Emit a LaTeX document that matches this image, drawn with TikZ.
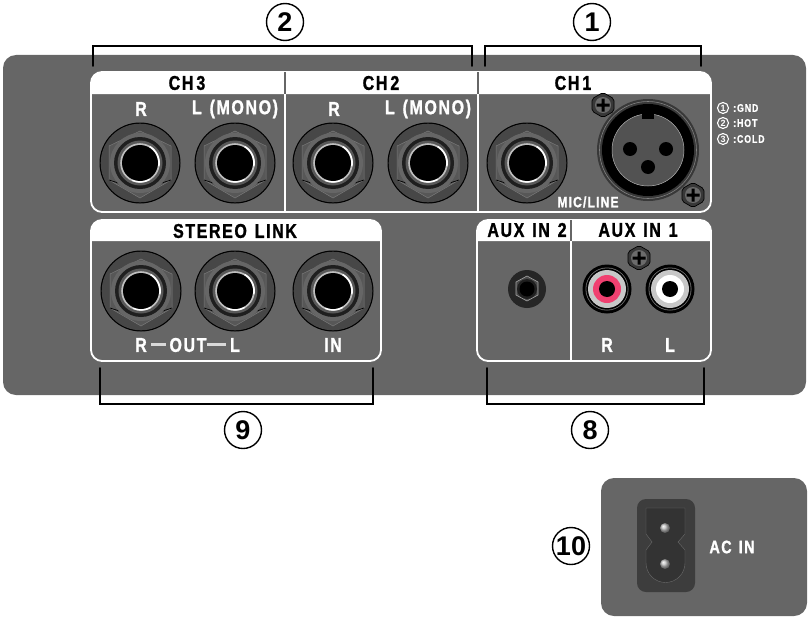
\documentclass[tikz,border=0pt]{standalone}
\usepackage{fontspec}
\setmainfont{Liberation Sans}
\newfontfamily\lblfont[LetterSpace=8,FakeStretch=.8,FakeBold=1.2,WordSpace=1.3]{Liberation Sans Bold}
\definecolor{panel}{HTML}{666666}
\definecolor{rcared}{HTML}{F04070}
\newcommand{\lbl}[1]{\fontsize{#1}{#1}\selectfont\lblfont}
\tikzset{
  x=1pt,y=-1pt,
  panelbox/.style={fill=panel,rounded corners=13pt},
  frame/.style={draw=white,line width=1.8pt,rounded corners=11pt},
  divider/.style={draw=white,line width=2pt},
  bracket/.style={draw=black,line width=1.6pt,line cap=round},
  callout/.style={draw=black,line width=1.4pt,fill=white,circle,minimum size=37pt,inner sep=0pt,font=\fontsize{27}{27}\selectfont\bfseries},
  headtxt/.style={text=black,inner sep=0pt,font=\lbl{20}},
  paneltxt/.style={text=white,inner sep=0pt,font=\lbl{20}},
  legend/.style={text=white,inner sep=0pt,anchor=west,font=\lbl{11}},
  legendnum/.style={draw=white,line width=1.1pt,circle,minimum size=11pt,inner sep=0pt,text=white,font=\fontsize{9}{9}\selectfont\bfseries},
  jack/.pic={
    \fill[black] (0,0) circle[radius=40.5];
    \fill[black!72] (0,0) circle[radius=39.3];
    \draw[fill=black!66,draw=black!52,line width=.5pt] (0,-32)--(31,-17)--(31,17)--(0,35)--(-31,17)--(-31,-17)--cycle;
    \draw[black,line width=.7pt] (-31,17)--(0,27)--(31,17);
    \fill[black!60] (0,0) circle[radius=30];
    \fill[black!88] (0,0) circle[radius=26];
    \fill[black!65] (0,0) circle[radius=22.5];
    \fill[black!25] (0,0) circle[radius=19.8];
    \fill[white] (0,0) -- (10,-17.2) arc[start angle=-60,end angle=10,radius=19.8] -- cycle;
    \fill[white] (0,0) -- (-8,18) arc[start angle=114,end angle=60,radius=19.8] -- cycle;
    \fill[black] (0,0) circle[radius=18];
  },
  screw/.pic={
    \draw[fill=black!78,draw=black,line width=.7pt,rounded corners=2pt] (0,-12.5)--(11,-6.2)--(11,6.2)--(0,12.5)--(-11,6.2)--(-11,-6.2)--cycle;
    \fill[black!58] (0,0) circle[radius=8];
    \fill[black] (-6.5,-1.5) rectangle (6.5,1.5) (-1.5,-6.5) rectangle (1.5,6.5);
  },
  rca/.pic={
    \fill[black] (0,0) circle[radius=24.5];
    \fill[black!55] (0,0) circle[radius=21.5];
    \fill[black] (0,0) circle[radius=20.7];
    \fill[black!22] (0,0) circle[radius=19];
    \fill[rcacol] (0,0) circle[radius=14];
    \fill[black] (0,0) circle[radius=8];
  },
}
\colorlet{rcacol}{white}
\begin{document}
\begin{tikzpicture}
\useasboundingbox (0,0) rectangle (810,618);
% back panel
\fill[panelbox] (3,55) rectangle (806,395);
\fill[panelbox] (601,478) rectangle (807,616);
% title bands
\fill[white] (91,94) [rounded corners=11pt] -- (91,72) -- (711,72) [sharp corners] -- (711,94) -- cycle;
\fill[white] (91,241) [rounded corners=11pt] -- (91,220) -- (381,220) [sharp corners] -- (381,241) -- cycle;
\fill[white] (477,241) [rounded corners=11pt] -- (477,220) -- (711,220) [sharp corners] -- (711,241) -- cycle;
% frames
\draw[frame] (91,212) rectangle (711,72);
\draw[frame] (91,361) rectangle (381,220);
\draw[frame] (477,361) rectangle (711,220);
\draw[panel,line width=1.3pt] (285,72) -- (285,94);
\draw[divider] (285,94) -- (285,212);
\draw[panel,line width=1.3pt] (478,72) -- (478,94);
\draw[divider] (478,94) -- (478,212);
\draw[panel,line width=1.3pt] (571,220) -- (571,241);
\draw[divider] (571,241) -- (571,361);
% jacks
\foreach \x in {140,235,333,428,527} \pic at (\x,163) {jack};
\foreach \x in {141,235,333} \pic at (\x,291) {jack};
% XLR
\fill[black!78] (648,150) circle[radius=51];
\fill[black] (648,150) circle[radius=46];
\draw[black!50,line width=.6pt] (648,150) circle[radius=48.5];
\draw[fill=black!68,draw=black!30,line width=.5pt] (648,150) circle[radius=36];
\fill[black] (642,112) rectangle (654,119);
\fill[black] (630,149) circle[radius=7];
\fill[black] (666,149) circle[radius=7];
\fill[black] (648,167) circle[radius=7];
\pic at (603,105) {screw};
\pic at (693,195) {screw};
% aux in 2
\fill[black!85] (527,289) circle[radius=19];
\draw[fill=black!72,draw=black!35,line width=.6pt] (527,276)--(538,282)--(538,295)--(527,301)--(516,295)--(516,282)--cycle;
\fill[black!88] (527,289) circle[radius=10];
\fill[black] (527,289) circle[radius=7.5];
% RCA
\colorlet{rcacol}{white}
\pic at (670,289) {rca};
\colorlet{rcacol}{rcared}
\pic at (607,289) {rca};
\pic at (639,258) {screw};
% titles
\node[headtxt] (ch3) at (187,83) {CH\kern3pt 3};
\node[headtxt] (ch2) at (381,83) {CH\kern3pt 2};
\node[headtxt] (ch1) at (573,83) {CH\kern3pt 1};
\node[headtxt] (slink) at (235,231) {STEREO LINK};
\node[headtxt] (aux2) at (527,230) {AUX IN 2};
\node[headtxt] (aux1) at (638,230) {AUX IN 1};
% panel labels
\node[paneltxt] (r3) at (141,109) {R};
\node[paneltxt] (l3) at (235,109) {L (MONO)};
\node[paneltxt] (r2) at (334,109) {R};
\node[paneltxt] (l2) at (428,109) {L (MONO)};
\node[text=white,inner sep=0pt,font=\lbl{15}] (mic) at (588,202) {MIC/LINE};
\node[paneltxt] (rout) at (141,345) {R};
\node[paneltxt] (out) at (188,345) {OUT};
\node[paneltxt] (lout) at (235,345) {L};
\fill[black!15] (151,343) rectangle (166,345.5);
\fill[black!15] (207,343) rectangle (226,345.5);
\node[paneltxt] (inlbl) at (333,345) {IN};
\node[paneltxt] (rr) at (607,345) {R};
\node[paneltxt] (ll) at (670,345) {L};
% pin legend
\node[legendnum] (n1) at (723,108) {1};
\node[legendnum] (n2) at (723,123) {2};
\node[legendnum] (n3) at (723,139) {3};
\node[legend] (gnd) at (733,108) {:GND};
\node[legend] (hot) at (733,123) {:HOT};
\node[legend] (cold) at (733,139) {:COLD};
% AC socket
\fill[black!76,rounded corners=9pt] (637,499) rectangle (695,592);
\draw[fill=black!80,draw=black!58,line width=.4pt] (646,508) -- (685,508) -- (685,534) -- (678,542)
  -- (685,550) -- (685,563) arc[start angle=0,end angle=180,radius=19.5] -- (646,550) -- (652,542) -- (646,534) -- cycle;
\shade[ball color=black!25] (665,528) circle[radius=5];
\shade[ball color=black!25] (665,564) circle[radius=5];
\node[text=white,inner sep=0pt,font=\lbl{18}] (acin) at (732,547) {AC IN};
% brackets
\coordinate (b2a) at (93,66); \coordinate (b2b) at (472,66);
\coordinate (b1a) at (485,66); \coordinate (b1b) at (701,66);
\coordinate (b9a) at (100,368); \coordinate (b9b) at (373,368);
\coordinate (b8a) at (487,368); \coordinate (b8b) at (704,368);
\draw[bracket] (b2a) |- (b2b |- 0,46) -- (b2b);
\draw[bracket] (b1a) |- (b1b |- 0,46) -- (b1b);
\draw[bracket] (b9a) |- (b9b |- 0,404) -- (b9b);
\draw[bracket] (b8a) |- (b8b |- 0,404) -- (b8b);
% callouts
\node[callout] (c2) at (285,22) {2};
\node[callout] (c1) at (592,22) {1};
\node[callout] (c9) at (243,430) {9};
\node[callout] (c8) at (590,430) {8};
\node[callout] (c10) at (571,546) {10};
\end{tikzpicture}
\end{document}
